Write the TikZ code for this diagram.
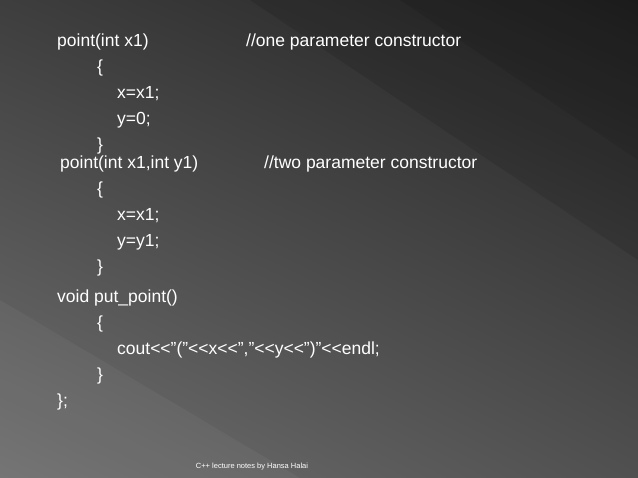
\documentclass[tikz,border=0pt]{standalone}
\usepackage{fontspec}
\setmainfont{Liberation Sans}
\usetikzlibrary{shadings}
\definecolor{bgll}{RGB}{112,112,112}
\definecolor{bglr}{RGB}{80,80,80}
\definecolor{bgul}{RGB}{62,62,62}
\definecolor{bgur}{RGB}{34,34,34}
\begin{document}
\begin{tikzpicture}[x=1pt,y=-1pt,
  code/.style={anchor=base west,inner sep=0pt,text=white,font=\fontsize{17.5}{20}\selectfont},
  foot/.style={anchor=base,inner sep=0pt,text=white,font=\fontsize{7.5}{8}\selectfont}]
\useasboundingbox (0,0) rectangle (638,478);
\shade[lower left=bgll,lower right=bglr,upper left=bgul,upper right=bgur] (0,0) rectangle (638,478);
\fill[black,opacity=0.10] (250,0) -- (638,0) -- (638,260) -- cycle;
\fill[black,opacity=0.08] (400,0) -- (638,0) -- (638,160) -- cycle;
\fill[white,opacity=0.04] (0,300) -- (0,478) -- (300,478) -- cycle;
\node[code] (l1) at (57,47) {point(int x1)};
\node[code] (c1) at (246,47) {//one parameter constructor};
\node[code] (l2) at (97,73) {\{};
\node[code] (l3) at (117,99) {x=x1;};
\node[code] (l4) at (117,125) {y=0;};
\node[code] (l5) at (97,151) {\}};
\node[code] (l6) at (60,169) {point(int x1,int y1)};
\node[code] (c2) at (264,169) {//two parameter constructor};
\node[code] (l7) at (97,195) {\{};
\node[code] (l8) at (117,221) {x=x1;};
\node[code] (l9) at (117,247) {y=y1;};
\node[code] (l10) at (97,273) {\}};
\node[code] (l11) at (57,303) {void put\_point()};
\node[code] (l12) at (97,329) {\{};
\node[code] (l13) at (117,355) {cout<{}<\symbol{34}(\symbol{34}<{}<x<{}<\symbol{34},\symbol{34}<{}<y<{}<\symbol{34})\symbol{34}<{}<endl;};
\node[code] (l14) at (97,381) {\}};
\node[code] (l15) at (57,407) {\};};
\node[foot] (f) at (252,469) {C++ lecture notes by Hansa Halai};
\end{tikzpicture}
\end{document}
